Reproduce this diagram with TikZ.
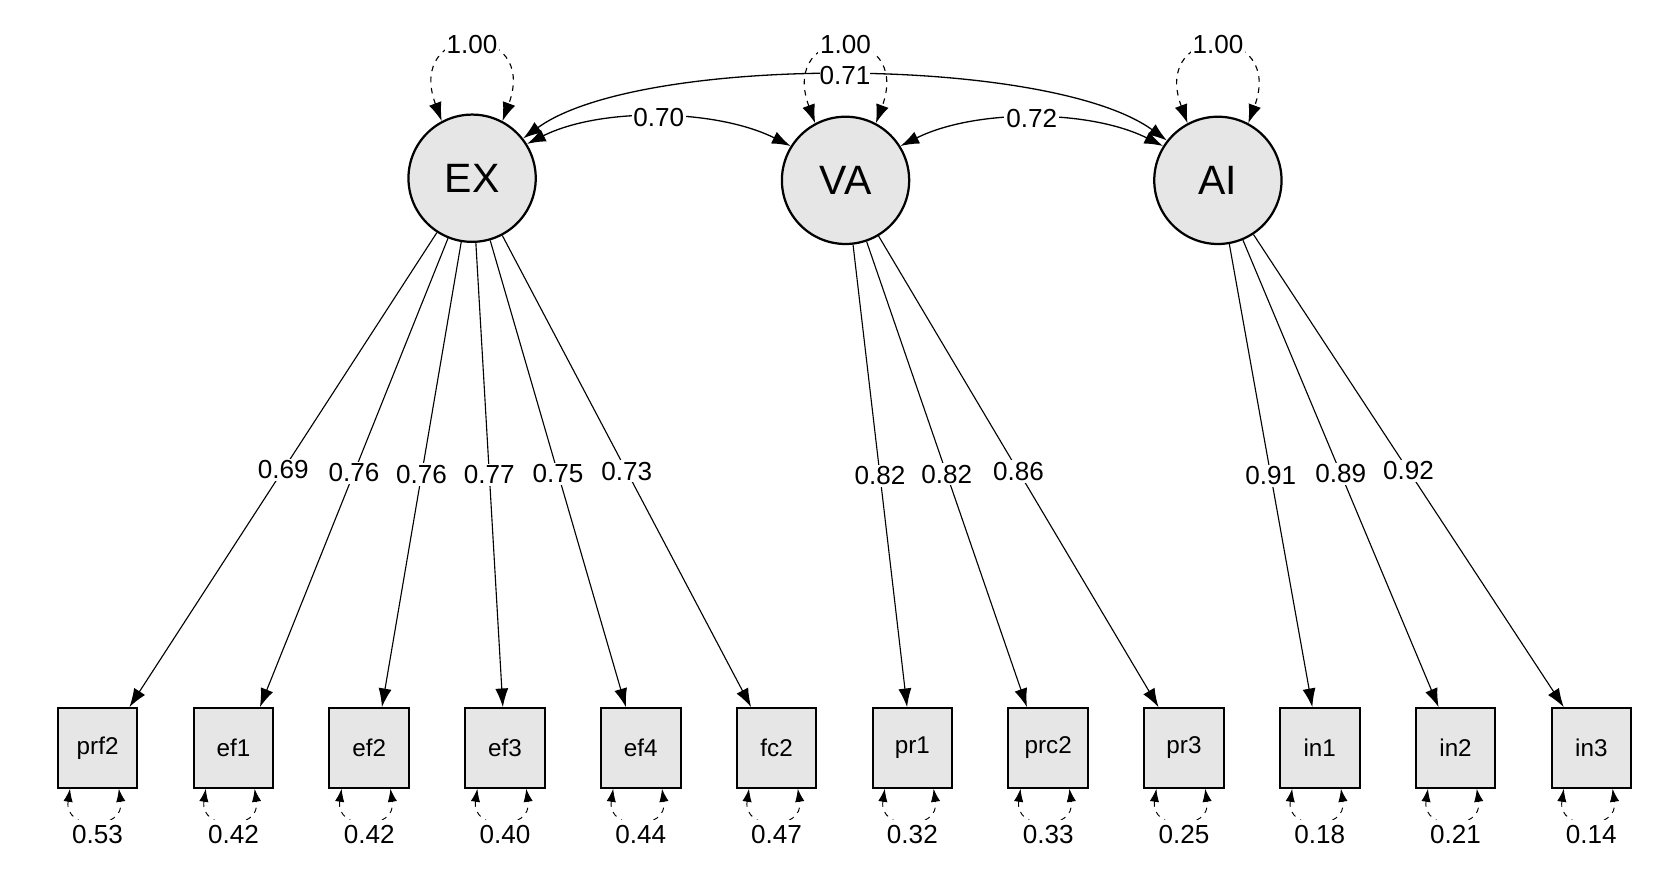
\documentclass[tikz,border=0pt]{standalone}
\usepackage{fontspec}
\setmainfont{Liberation Sans}
\usetikzlibrary{arrows.meta,calc}
\definecolor{nodegray}{HTML}{E6E6E6}
\begin{document}
\begin{tikzpicture}[x=0.02cm,y=-0.02cm,
  lat/.style={circle,draw,line width=1.2pt,fill=nodegray,minimum size=2.4cm,inner sep=0pt,font=\fontsize{22}{24}\selectfont},
  obs/.style={rectangle,draw,line width=1.1pt,fill=nodegray,minimum size=1.5cm,inner sep=0pt,font=\fontsize{13}{15}\selectfont},
  tip/.style={-{Latex[length=10pt,width=7pt]}},
  tips/.style={{Latex[length=10pt,width=7pt]}-{Latex[length=10pt,width=7pt]}},
  ld/.style={line width=0.6pt,tip},
  lab/.style={fill=white,inner sep=1pt,font=\fontsize{14}{16}\selectfont},
  vl/.style={dashed,line width=0.6pt,tips},
  el/.style={dashed,line width=0.5pt,{Latex[length=7pt,width=5pt]}-{Latex[length=7pt,width=5pt]}}
]
\useasboundingbox (0,0) rectangle (1560,827);
\node[lat] (EX) at (445,168) {EX};
\node[lat] (VA) at (797,170) {VA};
\node[lat] (AI) at (1148,170) {AI};
\foreach \n/\x/\v in {prf2/92/0.53,ef1/220/0.42,ef2/348/0.42,ef3/476/0.40,ef4/604/0.44,fc2/732/0.47,pr1/860/0.32,prc2/988/0.33,pr3/1116/0.25,in1/1244/0.18,in2/1372/0.21,in3/1500/0.14}{
  \node[obs] (\n) at (\x,705) {\n};
  \coordinate (\n l) at ($(\n.south)+(-26,0)$);
  \coordinate (\n r) at ($(\n.south)+(20,0)$);
  \draw[el] (\n l) .. controls ($(\n l)+(-6,40)$) and ($(\n r)+(6,40)$) .. (\n r);
  \node[lab,inner sep=3pt] (\n v) at (\x,787) {\v};
}
% variance loops
\foreach \l in {EX,VA,AI}{
  \draw[vl] (\l.118) .. controls ($(\l.118)+(-35,-95)$) and ($(\l.62)+(35,-95)$) .. (\l.62);
}
\node[lab] (EXv) at (445,42) {1.00};
\node[lab] (VAv) at (797,42) {1.00};
\node[lab] (AIv) at (1148,42) {1.00};
% covariances
\draw[line width=0.7pt,tips] (EX.38) .. controls ($(EX.38)+(110,-80)$) and ($(AI.142)+(-110,-80)$) .. node[lab,pos=0.5,inner sep=0pt] {0.71} (AI.142);
\draw[line width=0.7pt,tips] (EX.32) .. controls ($(EX.32)+(70,-35)$) and ($(VA.148)+(-70,-35)$) .. node[lab,pos=0.5] {0.70} (VA.148);
\draw[line width=0.7pt,tips] (VA.32) .. controls ($(VA.32)+(70,-35)$) and ($(AI.148)+(-70,-35)$) .. node[lab,pos=0.5] {0.72} (AI.148);
% loadings
\foreach \f/\o/\d/\w in {EX/prf2/30/0.69,EX/ef1/25/0.76,EX/ef2/12/0.76,EX/ef3/-2/0.77,EX/ef4/-14/0.75,EX/fc2/-24/0.73,VA/pr1/-5/0.82,VA/prc2/-20/0.82,VA/pr3/-24/0.86,AI/in1/-7/0.91,AI/in2/-16/0.89,AI/in3/-26/0.92}{
  \coordinate (\o t) at ($(\o.north)+(\d,0)$);
  \draw[ld] (\f) -- node[lab,pos=0.5] {\w} (\o t);
}
\end{tikzpicture}
\end{document}
